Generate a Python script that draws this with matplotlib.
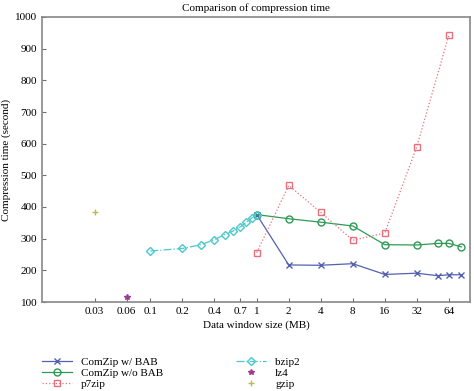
import matplotlib.pyplot as plt
import numpy as np

plt.rcParams['font.family'] = ['Liberation Serif', 'DejaVu Serif']
plt.rcParams['font.size'] = 8

# window sizes (MB)
x_comzip = [1, 2, 4, 8, 16, 32, 50, 64, 84]
y_bab = [376, 217, 216, 221, 187, 191, 183, 186, 186]
y_nobab = [376, 363, 352, 340, 281, 280, 285, 285, 274]

x_p7zip = [1, 2, 4, 8, 16, 32, 64]
y_p7zip = [256, 468, 383, 295, 318, 591, 943]

x_bzip2 = [0.1, 0.2, 0.3, 0.4, 0.5, 0.6, 0.7, 0.8, 0.9, 1]
y_bzip2 = [261, 269, 281, 297, 313, 324, 337, 352, 365, 376]

x_lz4 = [0.06]
y_lz4 = [117]
x_gzip = [0.03]
y_gzip = [384]

xticks = [0.03, 0.06, 0.1, 0.2, 0.4, 0.7, 1, 2, 4, 8, 16, 32, 64]
xticklabels = ['0.03', '0.06', '0.1', '0.2', '0.4', '0.7', '1', '2', '4', '8', '16', '32', '64']

fig = plt.figure(figsize=(4.74, 3.91), dpi=100)
ax = fig.add_axes([42/474, 1 - 302/391, 428/474, 285/391])

ax.plot(x_comzip, y_bab, color='#5461b0', marker='x', ms=4.5, lw=0.9, label='ComZip w/ BAB')
ax.plot(x_comzip, y_nobab, color='#2f9a55', marker='o', ms=5, mfc='none', lw=0.9, label='ComZip w/o BAB')
ax.plot(x_p7zip, y_p7zip, color='#e8707e', marker='s', ms=4, mfc='none', lw=0.9, ls=':', label='p7zip')
ax.plot(x_bzip2, y_bzip2, color='#4cc8cc', marker='D', ms=4, mfc='none', lw=0.9, ls='-.', label='bzip2')
ax.plot(x_lz4, y_lz4, color='#a03c90', marker='*', ms=4, ls='none', label='lz4')
ax.plot(x_gzip, y_gzip, color='#bcbc50', marker='+', ms=5, ls='none', label='gzip')

ax.set_xscale('log')
ax.set_xlim(0.0096, 101)
ax.set_ylim(100, 1000)
ax.set_xticks(xticks)
ax.set_xticklabels(xticklabels)
ax.minorticks_off()
ax.set_yticks(np.arange(100, 1001, 100))
ax.tick_params(direction='in', length=3, color='#707070', top=False, right=False)
for s in ax.spines.values():
    s.set_color('#888888')
    s.set_linewidth(1.2)

ax.set_title('Comparison of compression time', fontsize=8, pad=4)
ax.set_xlabel('Data window size (MB)', labelpad=3)
ax.set_ylabel('Compression time (second)', labelpad=3)

fig.legend(loc='upper left', bbox_to_anchor=(32/474, 1 - 347/391), ncol=2, frameon=False,
           columnspacing=6.6, handlelength=2.7, labelspacing=0.1, fontsize=8)

fig.savefig('out.png', dpi=100)
